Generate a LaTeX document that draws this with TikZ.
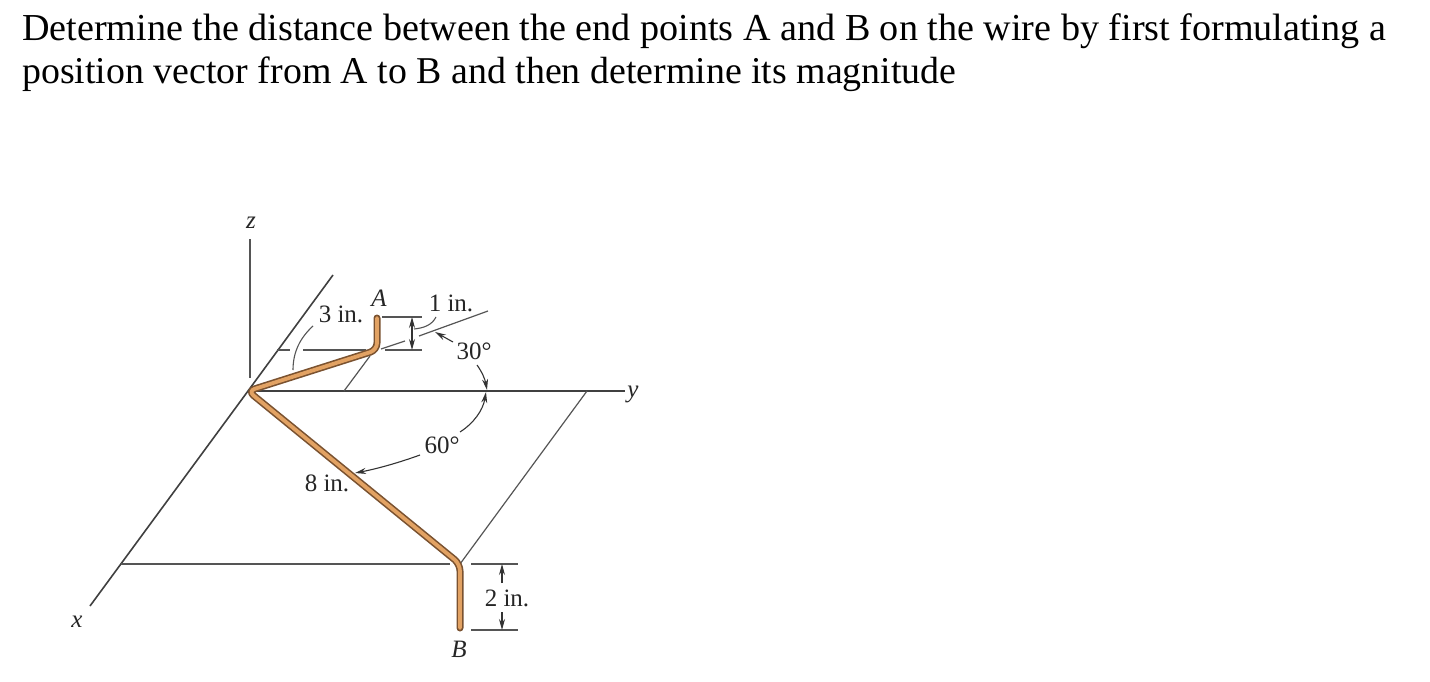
\documentclass[tikz,border=0pt]{standalone}
\usepackage{fontspec}
\setmainfont{Liberation Serif}
\usetikzlibrary{arrows.meta}
\definecolor{axisgray}{HTML}{555555}
\definecolor{wirecore}{HTML}{E2A263}
\definecolor{wireedge}{HTML}{7A5230}
\tikzset{
  x=1pt,y=-1pt,
  heading/.style={anchor=base west,inner sep=0pt,text=black},
  lbl/.style={inner sep=0pt,font=\fontsize{25}{28}\selectfont,text=black!85},
  ital/.style={inner sep=0pt,font=\fontsize{25}{28}\selectfont\itshape,text=black!85},
  thin line/.style={draw=axisgray,line width=1.2pt},
  axis line/.style={draw=black!75,line width=1.6pt},
  leader/.style={draw=axisgray,line width=1.1pt},
  dimtip/.style={-{Stealth[length=11pt,width=6pt]},draw=black!80,line width=1.1pt},
}
\begin{document}
\begin{tikzpicture}
\useasboundingbox (0,0) rectangle (1430,682);
\fill[white] (0,0) rectangle (1430,682);
% coordinates
\coordinate (O) at (248,391);
\coordinate (Abend) at (377,350);
\coordinate (Atop) at (377,318);
\coordinate (Bbend) at (460,564);
\coordinate (Bend) at (460,628);
% text
\node[heading,font=\fontsize{38.13}{42}\selectfont] (line1) at (22,41) {Determine the distance between the end points A and B on the wire by first formulating a};
\node[heading,font=\fontsize{37.88}{42}\selectfont] (line2) at (22,84) {position vector from A to B and then determine its magnitude};
% axes
\draw[thin line] (250,239) -- (250,378);
\draw[axis line] (333,275) -- (O) -- (90,606);
\draw[axis line] (O) -- (625,391);
\draw[thin line] (121,564) -- (450,564);
\draw[thin line] (587,391) -- (Bbend);
\draw[thin line] (344,391) -- (370,356);
% dashed bits near A
\draw[thin line] (277,350) -- (290,350);
\draw[thin line] (303,350) -- (366,350);
\draw[thin line] (381,349) -- (405,341);
\draw[thin line] (419,336) -- (488,311);
% dimension 1 in
\draw[thin line] (382,317) -- (422,317);
\draw[thin line] (385,350) -- (422,350);
\draw[{Stealth[length=11pt,width=6pt]}-{Stealth[length=11pt,width=6pt]},draw=black!80,line width=1.1pt] (412,317) -- (412,350);
\draw[leader] (436,317) .. controls (432,325) and (424,328) .. (414,329);
% dimension 3 in
\draw[leader] (313,326) .. controls (300,338) and (293,352) .. (293,370);
% 30 deg
\draw[dimtip] (453,342) -- (435,332);
\draw[dimtip] (477,365) .. controls (482,372) and (485,379) .. (487,390);
% 60 deg
\draw[dimtip] (460,432) .. controls (474,423) and (483,410) .. (486,392);
\draw[dimtip] (420,455) .. controls (398,463) and (376,469) .. (355,473);
% dimension 2 in
\draw[thin line] (471,564) -- (518,564);
\draw[thin line] (471,630) -- (518,630);
\draw[dimtip] (502,583) -- (502,564);
\draw[dimtip] (502,612) -- (502,630);
% wire
\foreach \wc/\ww in {wireedge/7pt,wirecore/3.8pt}{
  \draw[draw=\wc,line width=\ww,line cap=round,line join=round,rounded corners=7pt]
    (Atop) -- (Abend) -- (O) -- (Bbend) -- (Bend);
}
% labels
\node[lbl] (l3) at (341,314) {3 in.};
\node[ital] (lA) at (379,298) {A};
\node[lbl] (l1) at (451,303) {1 in.};
\node[lbl] (l30) at (474,351) {30°};
\node[lbl] (l60) at (442,445) {60°};
\node[lbl] (l8) at (327,483) {8 in.};
\node[lbl] (l2) at (507,598) {2 in.};
\node[ital] (lB) at (459,649) {B};
\node[ital] (lz) at (251,223) {z};
\node[ital] (ly) at (633,394) {y};
\node[ital] (lx) at (77,622) {x};
\end{tikzpicture}
\end{document}
